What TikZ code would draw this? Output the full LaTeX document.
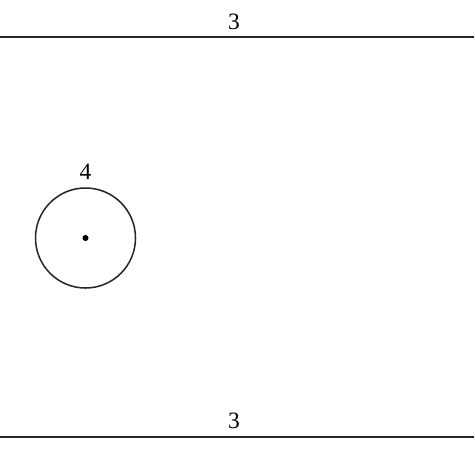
\documentclass[tikz,border=0pt]{standalone}
\usepackage{fontspec}
\setmainfont{Liberation Serif}
\usepackage{tikz}
\usetikzlibrary{positioning}
\tikzstyle{wall} = [line width=1.5pt, draw=black!85]
\tikzstyle{tag} = [font=\fontsize{20}{24}\selectfont, inner sep=0pt]
\tikzstyle{hole} = [circle, draw=black!85, line width=1.3pt, minimum size=100*0.03cm, inner sep=0pt]

\begin{document}
\begin{tikzpicture}[x=0.03cm, y=-0.03cm]
        \useasboundingbox (0,0) rectangle (474,474);
        
        % Upper and lower boundaries
        \coordinate (topL) at (0,37);
        \coordinate (topR) at (474,37);
        \coordinate (botL) at (0,437);
        \coordinate (botR) at (474,437);
        \draw [wall] (topL) -- (topR);
        \draw [wall] (botL) -- (botR);
        \node (toplabel) [tag] at (234,22) {3};
        \node (botlabel) [tag] at (234,421) {3};
        
        % Circular body with centre point
        \node (body) [hole] at (85.5,238) {};
        \fill (body.center) circle (2.6pt);
        \node (bodylabel) [tag] at (85.5,172) {4};
        
    \end{tikzpicture}
\end{document}
